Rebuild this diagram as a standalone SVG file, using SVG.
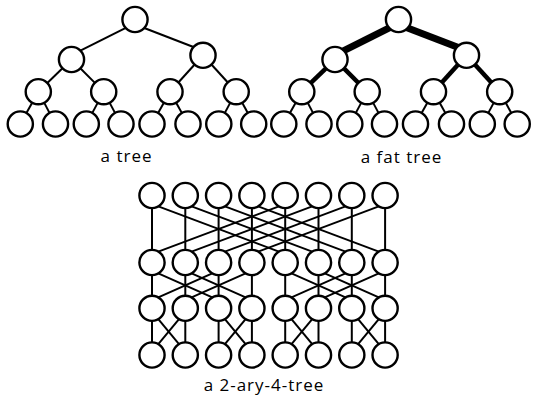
<svg xmlns="http://www.w3.org/2000/svg" width="538" height="410" viewBox="0 0 538 410">
<style>
.n{fill:#fff;stroke:#000;stroke-width:2.4}
.e{stroke:#000;stroke-width:2;fill:none}
.f1{stroke:#000;stroke-width:7;fill:none}
.f2{stroke:#000;stroke-width:4.5;fill:none}
.t{font-family:"Open Sans","Noto Sans","DejaVu Sans",sans-serif;font-size:17px;letter-spacing:1px;text-anchor:middle;fill:#000}
</style>
<rect width="538" height="410" fill="#fff"/>
<g id="connectors">
<!-- tree -->
<line class="e" x1="126.3" y1="27.6" x2="80.4" y2="50.7"/>
<line class="e" x1="143.6" y1="27.8" x2="194.1" y2="47.2"/>
<line class="e" x1="63.0" y1="67.7" x2="46.8" y2="83.5"/>
<line class="e" x1="79.8" y1="67.8" x2="95.4" y2="83.4"/>
<line class="e" x1="195.1" y1="64.0" x2="177.9" y2="83.0"/>
<line class="e" x1="211.0" y1="64.0" x2="228.3" y2="83.0"/>
<line class="e" x1="32.6" y1="102.0" x2="26.0" y2="113.7"/>
<line class="e" x1="43.9" y1="102.1" x2="49.9" y2="113.6"/>
<line class="e" x1="98.1" y1="102.1" x2="91.9" y2="113.6"/>
<line class="e" x1="109.3" y1="102.1" x2="115.4" y2="113.6"/>
<line class="e" x1="164.3" y1="102.0" x2="157.7" y2="113.7"/>
<line class="e" x1="175.7" y1="102.0" x2="182.3" y2="113.7"/>
<line class="e" x1="230.6" y1="102.1" x2="224.4" y2="113.6"/>
<line class="e" x1="241.8" y1="102.1" x2="248.1" y2="113.6"/>
<!-- fat tree -->
<line class="f1" x1="394.3" y1="25.4" x2="339.4" y2="52.9"/>
<line class="f1" x1="402.4" y1="26.0" x2="462.3" y2="49.0"/>
<line class="f2" x1="329.3" y1="65.1" x2="307.5" y2="86.1"/>
<line class="f2" x1="340.7" y1="65.2" x2="361.5" y2="86.0"/>
<line class="f2" x1="461.1" y1="61.2" x2="438.9" y2="85.8"/>
<line class="f2" x1="471.9" y1="61.2" x2="494.3" y2="85.8"/>
<line class="e" x1="296.1" y1="102.0" x2="289.5" y2="113.7"/>
<line class="e" x1="307.4" y1="102.1" x2="313.4" y2="113.6"/>
<line class="e" x1="361.6" y1="102.1" x2="355.4" y2="113.6"/>
<line class="e" x1="372.8" y1="102.1" x2="378.9" y2="113.6"/>
<line class="e" x1="427.8" y1="102.0" x2="421.2" y2="113.7"/>
<line class="e" x1="439.2" y1="102.0" x2="445.8" y2="113.7"/>
<line class="e" x1="494.1" y1="102.1" x2="487.9" y2="113.6"/>
<line class="e" x1="505.3" y1="102.1" x2="511.6" y2="113.6"/>
<!-- 2-ary-4-tree verticals -->
<line class="e" x1="152" y1="207" x2="152" y2="251"/>
<line class="e" x1="185.3" y1="207" x2="185.3" y2="251"/>
<line class="e" x1="218.6" y1="207" x2="218.6" y2="251"/>
<line class="e" x1="251.9" y1="207" x2="251.9" y2="251"/>
<line class="e" x1="285.2" y1="207" x2="285.2" y2="251"/>
<line class="e" x1="318.5" y1="207" x2="318.5" y2="251"/>
<line class="e" x1="351.8" y1="207" x2="351.8" y2="251"/>
<line class="e" x1="385.1" y1="207" x2="385.1" y2="251"/>
<line class="e" x1="152" y1="274" x2="152" y2="297"/>
<line class="e" x1="185.3" y1="274" x2="185.3" y2="297"/>
<line class="e" x1="218.6" y1="274" x2="218.6" y2="297"/>
<line class="e" x1="251.9" y1="274" x2="251.9" y2="297"/>
<line class="e" x1="285.2" y1="274" x2="285.2" y2="297"/>
<line class="e" x1="318.5" y1="274" x2="318.5" y2="297"/>
<line class="e" x1="351.8" y1="274" x2="351.8" y2="297"/>
<line class="e" x1="385.1" y1="274" x2="385.1" y2="297"/>
<line class="e" x1="152" y1="320" x2="152" y2="344"/>
<line class="e" x1="185.3" y1="320" x2="185.3" y2="344"/>
<line class="e" x1="218.6" y1="320" x2="218.6" y2="344"/>
<line class="e" x1="251.9" y1="320" x2="251.9" y2="344"/>
<line class="e" x1="285.2" y1="320" x2="285.2" y2="344"/>
<line class="e" x1="318.5" y1="320" x2="318.5" y2="344"/>
<line class="e" x1="351.8" y1="320" x2="351.8" y2="344"/>
<line class="e" x1="385.1" y1="320" x2="385.1" y2="344"/>
<!-- level 1-2 diagonals -->
<line class="e" x1="158.3" y1="206.4" x2="278.9" y2="251.6"/>
<line class="e" x1="191.6" y1="206.4" x2="312.2" y2="251.6"/>
<line class="e" x1="224.9" y1="206.4" x2="345.5" y2="251.6"/>
<line class="e" x1="258.2" y1="206.4" x2="378.8" y2="251.6"/>
<line class="e" x1="278.9" y1="206.4" x2="158.3" y2="251.6"/>
<line class="e" x1="312.2" y1="206.4" x2="191.6" y2="251.6"/>
<line class="e" x1="345.5" y1="206.4" x2="224.9" y2="251.6"/>
<line class="e" x1="378.8" y1="206.4" x2="258.2" y2="251.6"/>
<!-- level 2-3 diagonals -->
<line class="e" x1="158.3" y1="273.4" x2="212.3" y2="297.4"/>
<line class="e" x1="191.6" y1="273.4" x2="245.6" y2="297.4"/>
<line class="e" x1="212.3" y1="273.4" x2="158.3" y2="297.4"/>
<line class="e" x1="245.6" y1="273.4" x2="191.6" y2="297.4"/>
<line class="e" x1="291.5" y1="273.4" x2="345.5" y2="297.4"/>
<line class="e" x1="324.8" y1="273.4" x2="378.8" y2="297.4"/>
<line class="e" x1="345.5" y1="273.4" x2="291.5" y2="297.4"/>
<line class="e" x1="378.8" y1="273.4" x2="324.8" y2="297.4"/>
<!-- level 3-4 diagonals -->
<line class="e" x1="158.3" y1="319.2" x2="179" y2="344.1"/>
<line class="e" x1="179" y1="319.2" x2="158.3" y2="344.1"/>
<line class="e" x1="224.9" y1="319.2" x2="245.6" y2="344.1"/>
<line class="e" x1="245.6" y1="319.2" x2="224.9" y2="344.1"/>
<line class="e" x1="291.5" y1="319.2" x2="312.2" y2="344.1"/>
<line class="e" x1="312.2" y1="319.2" x2="291.5" y2="344.1"/>
<line class="e" x1="358.1" y1="319.2" x2="378.8" y2="344.1"/>
<line class="e" x1="378.8" y1="319.2" x2="358.1" y2="344.1"/>
</g>
<!-- tree nodes -->
<g id="t-root"><circle class="n" cx="135" cy="19.5" r="12.6"/></g>
<g id="t-a"><circle class="n" cx="71.5" cy="59.5" r="12.6"/></g>
<g id="t-b"><circle class="n" cx="203" cy="55.3" r="12.6"/></g>
<g id="t-c1"><circle class="n" cx="38.3" cy="91.7" r="12.6"/></g>
<g id="t-c2"><circle class="n" cx="103.7" cy="91.7" r="12.6"/></g>
<g id="t-c3"><circle class="n" cx="170" cy="91.7" r="12.6"/></g>
<g id="t-c4"><circle class="n" cx="236.2" cy="91.7" r="12.6"/></g>
<g id="t-d1"><circle class="n" cx="20.3" cy="124" r="12.6"/></g>
<g id="t-d2"><circle class="n" cx="55.5" cy="124" r="12.6"/></g>
<g id="t-d3"><circle class="n" cx="86.3" cy="124" r="12.6"/></g>
<g id="t-d4"><circle class="n" cx="121" cy="124" r="12.6"/></g>
<g id="t-d5"><circle class="n" cx="152" cy="124" r="12.6"/></g>
<g id="t-d6"><circle class="n" cx="188" cy="124" r="12.6"/></g>
<g id="t-d7"><circle class="n" cx="218.8" cy="124" r="12.6"/></g>
<g id="t-d8"><circle class="n" cx="253.7" cy="124" r="12.6"/></g>
<!-- fat tree nodes -->
<g id="f-root"><circle class="n" cx="398.5" cy="19.5" r="12.6"/></g>
<g id="f-a"><circle class="n" cx="335" cy="59.5" r="12.6"/></g>
<g id="f-b"><circle class="n" cx="466.5" cy="55.3" r="12.6"/></g>
<g id="f-c1"><circle class="n" cx="301.8" cy="91.7" r="12.6"/></g>
<g id="f-c2"><circle class="n" cx="367.2" cy="91.7" r="12.6"/></g>
<g id="f-c3"><circle class="n" cx="433.5" cy="91.7" r="12.6"/></g>
<g id="f-c4"><circle class="n" cx="499.7" cy="91.7" r="12.6"/></g>
<g id="f-d1"><circle class="n" cx="283.8" cy="124" r="12.6"/></g>
<g id="f-d2"><circle class="n" cx="319" cy="124" r="12.6"/></g>
<g id="f-d3"><circle class="n" cx="349.8" cy="124" r="12.6"/></g>
<g id="f-d4"><circle class="n" cx="384.5" cy="124" r="12.6"/></g>
<g id="f-d5"><circle class="n" cx="415.5" cy="124" r="12.6"/></g>
<g id="f-d6"><circle class="n" cx="451.5" cy="124" r="12.6"/></g>
<g id="f-d7"><circle class="n" cx="482.3" cy="124" r="12.6"/></g>
<g id="f-d8"><circle class="n" cx="517.2" cy="124" r="12.6"/></g>
<!-- 2-ary-4-tree nodes -->
<g id="k-1-0"><circle class="n" cx="152" cy="195.5" r="12.6"/></g>
<g id="k-1-1"><circle class="n" cx="185.3" cy="195.5" r="12.6"/></g>
<g id="k-1-2"><circle class="n" cx="218.6" cy="195.5" r="12.6"/></g>
<g id="k-1-3"><circle class="n" cx="251.9" cy="195.5" r="12.6"/></g>
<g id="k-1-4"><circle class="n" cx="285.2" cy="195.5" r="12.6"/></g>
<g id="k-1-5"><circle class="n" cx="318.5" cy="195.5" r="12.6"/></g>
<g id="k-1-6"><circle class="n" cx="351.8" cy="195.5" r="12.6"/></g>
<g id="k-1-7"><circle class="n" cx="385.1" cy="195.5" r="12.6"/></g>
<g id="k-2-0"><circle class="n" cx="152" cy="262.5" r="12.6"/></g>
<g id="k-2-1"><circle class="n" cx="185.3" cy="262.5" r="12.6"/></g>
<g id="k-2-2"><circle class="n" cx="218.6" cy="262.5" r="12.6"/></g>
<g id="k-2-3"><circle class="n" cx="251.9" cy="262.5" r="12.6"/></g>
<g id="k-2-4"><circle class="n" cx="285.2" cy="262.5" r="12.6"/></g>
<g id="k-2-5"><circle class="n" cx="318.5" cy="262.5" r="12.6"/></g>
<g id="k-2-6"><circle class="n" cx="351.8" cy="262.5" r="12.6"/></g>
<g id="k-2-7"><circle class="n" cx="385.1" cy="262.5" r="12.6"/></g>
<g id="k-3-0"><circle class="n" cx="152" cy="308.3" r="12.6"/></g>
<g id="k-3-1"><circle class="n" cx="185.3" cy="308.3" r="12.6"/></g>
<g id="k-3-2"><circle class="n" cx="218.6" cy="308.3" r="12.6"/></g>
<g id="k-3-3"><circle class="n" cx="251.9" cy="308.3" r="12.6"/></g>
<g id="k-3-4"><circle class="n" cx="285.2" cy="308.3" r="12.6"/></g>
<g id="k-3-5"><circle class="n" cx="318.5" cy="308.3" r="12.6"/></g>
<g id="k-3-6"><circle class="n" cx="351.8" cy="308.3" r="12.6"/></g>
<g id="k-3-7"><circle class="n" cx="385.1" cy="308.3" r="12.6"/></g>
<g id="k-4-0"><circle class="n" cx="152" cy="355" r="12.6"/></g>
<g id="k-4-1"><circle class="n" cx="185.3" cy="355" r="12.6"/></g>
<g id="k-4-2"><circle class="n" cx="218.6" cy="355" r="12.6"/></g>
<g id="k-4-3"><circle class="n" cx="251.9" cy="355" r="12.6"/></g>
<g id="k-4-4"><circle class="n" cx="285.2" cy="355" r="12.6"/></g>
<g id="k-4-5"><circle class="n" cx="318.5" cy="355" r="12.6"/></g>
<g id="k-4-6"><circle class="n" cx="351.8" cy="355" r="12.6"/></g>
<g id="k-4-7"><circle class="n" cx="385.1" cy="355" r="12.6"/></g>
<g id="labels">
<text class="t" x="126.5" y="162">a tree</text>
<text class="t" x="401.5" y="162.5">a fat tree</text>
<text class="t" x="264" y="391">a 2-ary-4-tree</text>
</g>
</svg>
